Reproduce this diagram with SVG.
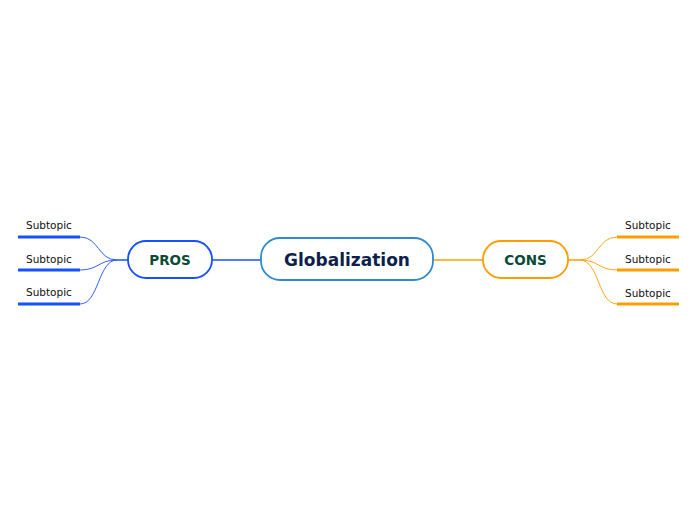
<svg xmlns="http://www.w3.org/2000/svg" width="696" height="520" viewBox="0 0 696 520">
<style>
.blue{stroke:#1750ff;fill:none}
.orange{stroke:#ff9d00;fill:none}
.sub{font-family:"DejaVu Sans",sans-serif;font-size:10.5px;fill:#111}
.lbl{font-family:"DejaVu Sans",sans-serif;font-weight:bold;text-anchor:middle}
</style>
<rect width="696" height="520" fill="#fff"/>
<g id="connectors">
<line class="blue" x1="212" y1="260" x2="261" y2="260" stroke-width="1.5"/>
<line class="orange" x1="433" y1="260" x2="483" y2="260" stroke-width="1.5"/>
<line class="blue" x1="117" y1="260" x2="128" y2="260" stroke-width="1.5"/>
<path class="blue" stroke-width="0.9" d="M117,260 C98,260 99,237 80,237 M117,260 C98,260 99,270 80,270 M117,260 C98,260 99,304 80,304"/>
<line class="orange" x1="568" y1="260" x2="580" y2="260" stroke-width="1.5"/>
<path class="orange" stroke-width="0.9" d="M580,260 C599,260 598,237 617,237 M580,260 C599,260 598,270 617,270 M580,260 C599,260 598,304 617,304"/>
</g>
<g id="central">
<rect x="261" y="238" width="172" height="42" rx="19" fill="#fff" stroke="#2f8bd1" stroke-width="1.8"/>
<text class="lbl" x="347" y="266" font-size="17" fill="#0e1f4d">Globalization</text>
</g>
<g id="pros">
<rect x="128" y="241" width="84" height="37" rx="18" fill="#fff" stroke="#1750ff" stroke-width="1.8"/>
<text class="lbl" x="170" y="265" font-size="13.5" fill="#0b4a33">PROS</text>
</g>
<g id="cons">
<rect x="483" y="241" width="85" height="37" rx="18" fill="#fff" stroke="#ff9d00" stroke-width="1.8"/>
<text class="lbl" x="525.5" y="265" font-size="13.5" fill="#0b4a33">CONS</text>
</g>
<g id="pros-sub1"><line class="blue" x1="18" y1="237" x2="80" y2="237" stroke-width="3"/><text class="sub" x="26" y="229">Subtopic</text></g>
<g id="pros-sub2"><line class="blue" x1="18" y1="270" x2="80" y2="270" stroke-width="3"/><text class="sub" x="26" y="263">Subtopic</text></g>
<g id="pros-sub3"><line class="blue" x1="18" y1="304" x2="80" y2="304" stroke-width="3"/><text class="sub" x="26" y="296">Subtopic</text></g>
<g id="cons-sub1"><line class="orange" x1="617" y1="237" x2="679" y2="237" stroke-width="3"/><text class="sub" x="625" y="229">Subtopic</text></g>
<g id="cons-sub2"><line class="orange" x1="617" y1="270" x2="679" y2="270" stroke-width="3"/><text class="sub" x="625" y="263">Subtopic</text></g>
<g id="cons-sub3"><line class="orange" x1="617" y1="304" x2="679" y2="304" stroke-width="3"/><text class="sub" x="625" y="297">Subtopic</text></g>
</svg>
